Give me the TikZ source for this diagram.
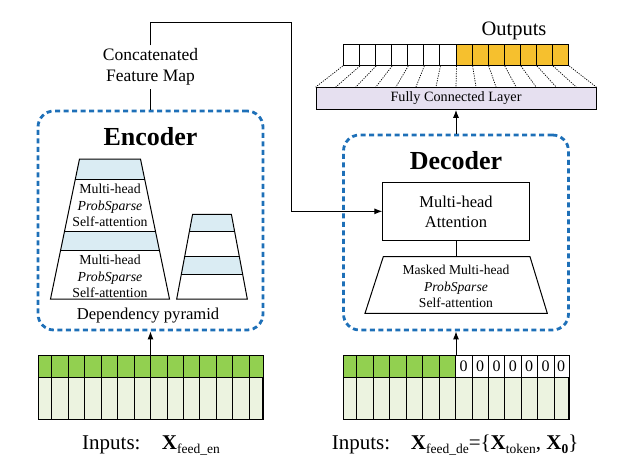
\documentclass[tikz,border=0pt]{standalone}
\usepackage{fontspec}
\setmainfont{Liberation Serif}
\usetikzlibrary{arrows.meta,calc}
\definecolor{blueD}{RGB}{30,112,184}
\definecolor{bandc}{RGB}{218,236,243}
\definecolor{lav}{RGB}{230,224,240}
\definecolor{goldc}{RGB}{246,192,46}
\definecolor{greenD}{RGB}{146,208,80}
\definecolor{greenL}{RGB}{236,243,224}
\newcommand\sbx[1]{\raisebox{-4pt}{\fontsize{13.5}{13.5}\selectfont #1}}
\tikzset{
  ln/.style={line width=1pt},
  dbox/.style={draw=blueD, line width=2.8pt, dash pattern=on 5pt off 3.5pt, rounded corners=16pt, inner sep=0pt},
  arr/.style={line width=1pt, -{Latex[length=8pt,width=6pt]}},
  dots/.style={line width=0.7pt, dash pattern=on 1.2pt off 1.2pt},
  ptext/.style={align=center, inner sep=0pt, font=\fontsize{13.8}{16.5}\selectfont},
  ttl/.style={font=\fontsize{26}{30}\selectfont\bfseries, inner sep=0pt},
  lbl/.style={anchor=base west, inner sep=0pt, font=\fontsize{21}{24}\selectfont},
  cellbox/.style={draw, ln, minimum width=16.1pt, minimum height=21.5pt, inner sep=0pt},
}
\begin{document}
\begin{tikzpicture}[x=1pt,y=-1pt]
\useasboundingbox (0,0) rectangle (640,475);

% ---------- Encoder ----------
\node[dbox, minimum width=225pt, minimum height=219pt] (enc) at (150.5,220.5) {};
\node[ttl] (enctitle) at (150.5,137) {Encoder};

% big pyramid
\fill[bandc] (79.5,159) -- (140.5,159) -- (144.64,179) -- (75.36,179) -- cycle;
\fill[bandc] (64.59,231) -- (155.41,231) -- (159.35,250) -- (60.65,250) -- cycle;
\draw[ln] (79.5,159) -- (140.5,159) -- (169.5,299) -- (50.5,299) -- cycle;
\draw[ln] (75.36,179) -- (144.64,179);
\draw[ln] (64.59,231) -- (155.41,231);
\draw[ln] (60.65,250) -- (159.35,250);
\node[ptext] (att1) at (110,205.5) {Multi-head\\\textit{ProbSparse}\\Self-attention};
\node[ptext] (att2) at (110,276.5) {Multi-head\\\textit{ProbSparse}\\Self-attention};

% small pyramid
\fill[bandc] (192.6,214.3) -- (231.4,214.3) -- (234.67,231.7) -- (189.33,231.7) -- cycle;
\fill[bandc] (184.64,256.7) -- (239.36,256.7) -- (242.6,274) -- (181.4,274) -- cycle;
\draw[ln] (192.6,214.3) -- (231.4,214.3) -- (247.3,299) -- (176.7,299) -- cycle;
\draw[ln] (189.33,231.7) -- (234.67,231.7);
\draw[ln] (184.64,256.7) -- (239.36,256.7);
\draw[ln] (181.4,274) -- (242.6,274);

\node[inner sep=0pt, font=\fontsize{16.6}{19}\selectfont] (dep) at (148,316) {Dependency pyramid};

% concatenated feature map
\node[align=center, inner sep=3pt, font=\fontsize{17.5}{21}\selectfont] (concat) at (150.5,67) {Concatenated\\Feature Map};
\draw[ln] (enc.north) -- (concat.south);

% ---------- Decoder ----------
\node[dbox, minimum width=225pt, minimum height=195pt] (dec) at (456,232.5) {};
\node[ttl] (dectitle) at (456,161) {Decoder};
\node[draw, ln, minimum width=146.3pt, minimum height=57.3pt, inner sep=0pt, align=center,
      font=\fontsize{16.5}{20}\selectfont] (attn) at (456,211.35) {Multi-head\\Attention};
\draw[ln] (383.3,256.7) -- (530,256.7) -- (547.3,313.3) -- (365,313.3) -- cycle;
\coordinate (mtop) at (456,256.7);
\draw[ln] (attn.south) -- (mtop);
\node[ptext, font=\fontsize{13.6}{16.5}\selectfont] (mask) at (456,286.5) {Masked Multi-head\\\textit{ProbSparse}\\Self-attention};

% route from encoder to decoder
\coordinate (tr) at (291.7,22.7);
\draw[arr] (concat.north) |- (tr) |- (attn.west);

% ---------- Output part ----------
\node[draw, ln, fill=lav, minimum width=280pt, minimum height=21.6pt, inner sep=0pt,
      font=\fontsize{14.2}{16}\selectfont] (fc) at (456,98.5) {Fully Connected Layer};
\draw[arr] (dec.north) -- (fc.south);

\foreach \i in {1,...,7}
  \node[cellbox, fill=white] (o\i) at ({343.3+16.1*(\i-0.5)},54.75) {};
\foreach \i in {8,...,14}
  \node[cellbox, fill=goldc] (o\i) at ({343.3+16.1*(\i-0.5)},54.75) {};
\draw[dots] (o1.south west) -- (fc.north west);
\foreach \k in {1,...,14}
  \draw[dots] (o\k.south east) -- ($(fc.north west)!{\k/14}!(fc.north east)$);
\node[inner sep=0pt, font=\fontsize{20.5}{24}\selectfont] (outlbl) at (514,30.7) {Outputs};

% ---------- Input grids ----------
\node[draw, ln, fill=greenL, minimum width=224pt, minimum height=63.3pt, inner sep=0pt] (encin) at (150.5,387.7) {};
\fill[greenD] (encin.north west) rectangle ($(encin.north east)+(0,21.7)$);
\draw[ln] (encin.north west) rectangle (encin.south east);
\draw[ln] ($(encin.north west)+(0,21.7)$) -- ($(encin.north east)+(0,21.7)$);
\foreach \dx in {13.4,30,46.7,63,79.7,96,112.4,129,145.4,161.7,178.4,194.7,211}
  \draw[ln] ($(encin.north west)+(\dx,0)$) -- ($(encin.south west)+(\dx,0)$);
\draw[arr] (encin.north) -- (enc.south);

\node[draw, ln, fill=greenL, minimum width=225pt, minimum height=63.3pt, inner sep=0pt] (decin) at (456,387.7) {};
\fill[greenD] (decin.north west) rectangle ($(decin.north west)+(112.4,21.7)$);
\fill[white] ($(decin.north west)+(112.4,0)$) rectangle ($(decin.north east)+(0,21.7)$);
\draw[ln] (decin.north west) rectangle (decin.south east);
\draw[ln] ($(decin.north west)+(0,21.7)$) -- ($(decin.north east)+(0,21.7)$);
\foreach \dx in {13.4,30,46.7,63,79.7,96,112.4,129,145.4,161.7,178.4,194.7,211}
  \draw[ln] ($(decin.north west)+(\dx,0)$) -- ($(decin.south west)+(\dx,0)$);
\foreach \cx [count=\j] in {120.7,137.2,153.55,169.85,186.05,202.55,218}
  \node[inner sep=0pt, font=\fontsize{16}{18}\selectfont] (z\j) at ($(decin.north west)+(\cx,10.85)$) {0};
\draw[arr] (decin.north) -- (dec.south);

% ---------- Labels ----------
\node[lbl] (inen) at (82,449.3) {Inputs:};
\node[lbl] (xen) at (161.7,449.3) {\textbf{X}\sbx{feed\_en}};
\node[lbl] (inde) at (331.7,449.3) {Inputs:};
\node[lbl] (xde) at (410.7,449.3) {\textbf{X}\sbx{feed\_de}=\{\textbf{X}\sbx{token}, \textbf{X}\sbx{\textbf{0}}\}};
\end{tikzpicture}
\end{document}
